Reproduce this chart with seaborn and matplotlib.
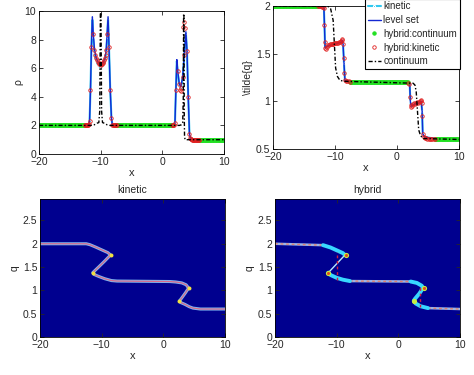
import numpy as np
import matplotlib
matplotlib.use("Agg")
import matplotlib.pyplot as plt
import seaborn as sns

sns.set_style("ticks")
plt.rcParams["font.family"] = ["Liberation Sans", "DejaVu Sans"]
plt.rcParams["font.size"] = 7.5

# ---------------- top left: density rho ----------------
level_x = [-20, -11.95, -11.8, -11.65, -11.5, -11.35, -11.2, -11.0, -10.7, -10.4, -10.0,
           -9.6, -9.3, -9.1, -8.95, -8.8, -8.65, -8.45, -8.25, -8.1, -7.9,
           1.9, 2.05, 2.2, 2.35, 2.5, 2.75, 3.0, 3.3, 3.55, 3.82, 4.0, 4.2, 4.4, 4.6, 6.0, 10]
level_rho = [2, 2, 2.3, 4.5, 7.5, 9.6, 8.4, 7.3, 6.7, 6.4, 6.25,
             6.4, 6.7, 7.3, 8.4, 9.6, 7.5, 4.5, 2.5, 2.05, 2.0,
             2.0, 2.2, 4.5, 6.6, 5.8, 4.9, 4.7, 5.4, 6.9, 8.55, 7.2, 4.0, 1.4, 1.05, 1.0, 1.0]
kin_rho = [2, 2, 2.3, 4.5, 7.5, 9.5, 8.2, 7.1, 6.5, 6.2, 6.05,
           6.2, 6.5, 7.1, 8.2, 9.5, 7.5, 4.5, 2.5, 2.05, 2.0,
           2.0, 2.2, 4.5, 6.5, 5.7, 4.8, 4.6, 5.3, 6.8, 8.45, 7.2, 4.0, 1.4, 1.05, 1.0, 1.0]

cont_x = [-20, -11.5, -11.0, -10.6, -10.3, -10.15, -10.05, -9.95, -9.85, -9.7, -9.4, -9.0, -8.5,
          2.8, 3.1, 3.3, 3.4, 3.45, 3.5, 3.55, 3.6, 3.7, 4.0, 10]
cont_rho = [2, 2, 2.05, 2.15, 2.2, 3.0, 10, 10, 3.0, 2.2, 2.15, 2.05, 2.0,
            2.0, 2.05, 2.2, 4.0, 9.8, 9.8, 3.0, 1.2, 1.0, 1.0, 1.0]

hc_rho_x1 = np.arange(-20, -12.6, 0.12)
hc_rho_x2 = np.arange(-7.4, 1.6, 0.12)
hc_rho_x3 = np.arange(6.0, 10.01, 0.12)
hc_rho_levels = [2.0, 2.0, 1.0]

hk_rho_x = [-12.6, -12.5, -12.4, -12.3, -12.2, -12.1, -12.0, -11.9, -11.8, -11.65, -11.5,
            -11.2, -11.0, -10.85, -10.7, -10.55, -10.4, -10.3, -10.2, -10.1, -10.0,
            -9.9, -9.8, -9.7, -9.6, -9.45, -9.3, -9.15, -9.1, -8.95, -8.65, -8.45,
            -8.25, -8.1, -8.0, -7.9, -7.8, -7.7, -7.6, -7.5, -7.4,
            1.6, 1.7, 1.8, 1.9, 2.05, 2.2, 2.5, 2.75, 2.9, 3.0, 3.1, 3.3, 3.4, 3.5,
            3.6, 3.55, 4.0, 4.2, 4.4, 4.5, 4.6, 4.7, 4.8, 4.9, 5.0, 5.1, 5.2, 5.3,
            5.4, 5.5, 5.6, 5.7, 5.8, 5.9, 6.0]
hk_rho = [2.0, 2.0, 2.0, 2.0, 2.0, 2.0, 2.0, 2.1, 2.3, 4.5, 7.5,
          8.4, 7.3, 6.9, 6.7, 6.55, 6.4, 6.35, 6.3, 6.28, 6.25,
          6.28, 6.3, 6.35, 6.4, 6.55, 6.7, 6.9, 7.3, 8.4, 7.5, 4.5,
          2.5, 2.05, 2.0, 2.0, 2.0, 2.0, 2.0, 2.0, 2.0,
          2.0, 2.0, 2.0, 2.0, 2.2, 4.5, 5.8, 4.9, 4.5, 4.6, 4.4, 5.4, 8.9, 9.2,
          8.8, 6.9, 7.2, 4.0, 1.4, 1.1, 1.05, 1.02, 1.0, 1.0, 1.0, 1.0, 1.0, 1.0,
          1.0, 1.0, 1.0, 1.0, 1.0, 1.0, 1.0]

# ---------------- top right: \tilde{q} ----------------
level_q_x = [-20, -11.8, -11.7, -11.6, -11.2, -10.5, -10.0, -9.5, -9.0, -8.85, -8.7, -8.55,
             -8.4, -7.6, 1.9, 2.05, 2.15, 2.3, 2.6, 3.0, 3.5, 3.9, 4.05, 4.15, 4.4, 5.0, 6.0, 10]
level_q = [2.0, 2.0, 1.8, 1.56, 1.58, 1.59, 1.6, 1.61, 1.62, 1.64, 1.6, 1.4,
           1.22, 1.21, 1.19, 1.18, 1.0, 0.95, 0.96, 0.98, 0.98, 1.0, 0.9, 0.66, 0.63, 0.62, 0.61, 0.6]

cont_q_x = [-20, -11.2, -10.7, -10.3, -10.1, -9.9, -9.6, -9.2, -8.5,
            2.6, 2.9, 3.1, 3.3, 3.5, 3.8, 4.2, 10]
cont_q = [2.0, 2.0, 1.97, 1.85, 1.6, 1.35, 1.26, 1.22, 1.21,
          1.19, 1.17, 1.1, 0.9, 0.7, 0.64, 0.61, 0.6]

hc_q_x1 = np.arange(-20, -12.7, 0.12)
hc_q_x2 = np.arange(-7.6, 1.85, 0.12)
hc_q_x3 = np.arange(6.1, 10.01, 0.12)
hc_q_levels = [2.0, 1.2, 0.6]

hk_q_x = [-12.7, -12.55, -12.4, -12.25, -12.1, -11.95, -11.8, -11.7, -11.65, -11.6,
          -11.45, -11.3, -11.15, -11.0, -10.85, -10.7, -10.55, -10.4, -10.25, -10.1,
          -9.95, -9.8, -9.65, -9.5, -9.35, -9.2, -9.05, -8.9, -8.8, -8.7, -8.6, -8.5,
          -8.4, -8.2, -8.0, -7.8, -7.6,
          1.85, 2.0, 2.1, 2.2, 2.3, 2.45, 2.6, 2.75, 2.9, 3.05, 3.2, 3.35, 3.5, 3.65,
          3.8, 3.9, 4.0, 4.1, 4.2, 4.35, 4.5, 4.7, 4.9, 5.1, 5.3, 5.5, 5.7, 5.9, 6.1]
hk_q = [2.0, 2.0, 2.0, 2.0, 1.99, 1.99, 1.98, 1.8, 1.62, 1.56,
        1.55, 1.57, 1.59, 1.59, 1.6, 1.6, 1.6, 1.6, 1.6, 1.61,
        1.61, 1.61, 1.61, 1.61, 1.62, 1.62, 1.63, 1.64, 1.65, 1.6, 1.45, 1.3,
        1.22, 1.21, 1.21, 1.21, 1.2,
        1.19, 1.18, 1.05, 0.96, 0.94, 0.95, 0.97, 0.98, 0.97, 0.98, 0.99, 0.98, 0.99, 1.0,
        1.0, 1.01, 0.98, 0.85, 0.66, 0.63, 0.62, 0.62, 0.61, 0.61, 0.61, 0.6, 0.6, 0.6, 0.6]

# ---------------- bottom: (x, q) phase space curves ----------------
kin_path_x = [-20, -12.5, -11.9, -11.0, -10.0, -9.0, -8.55, -9.5, -10.5, -11.45, -11.2, -10.5,
              -9.5, -8.4, -7.5, 1.0, 2.0, 3.0, 3.7, 4.1, 3.6, 3.0, 2.6, 2.8, 3.5, 4.2, 4.8, 6.0, 10]
kin_path_q = [2.0, 2.0, 1.98, 1.93, 1.87, 1.81, 1.76, 1.63, 1.50, 1.38, 1.34, 1.30,
              1.25, 1.21, 1.2, 1.19, 1.18, 1.16, 1.12, 1.05, 0.95, 0.84, 0.77, 0.74, 0.7, 0.65, 0.62, 0.6, 0.6]
cusp_x = [-8.55, -11.45, 4.1, 2.6]
cusp_q = [1.76, 1.38, 1.05, 0.77]

hyb_flat_x = [[-20, -12.2], [-7.85, 2.0], [4.8, 10]]
hyb_flat_q = [[2.0, 1.97], [1.2, 1.19], [0.62, 0.6]]
hyb_slope_x = [[-12.2, -11.0, -10.0, -9.0, -8.65],
               [-11.35, -11.0, -10.0, -9.0, -7.85],
               [2.0, 3.0, 3.8, 4.0, 3.4, 2.7, 2.5, 2.8, 3.6, 4.8]]
hyb_slope_q = [[1.97, 1.92, 1.86, 1.80, 1.76],
               [1.38, 1.33, 1.27, 1.23, 1.2],
               [1.19, 1.16, 1.1, 1.05, 0.93, 0.82, 0.78, 0.72, 0.66, 0.62]]
hyb_link_x = [-8.65, -11.35]
hyb_link_q = [1.76, 1.38]
hyb_shock_x = [[-9.95, -9.95], [3.45, 3.45]]
hyb_shock_q = [[1.23, 1.83], [0.65, 1.08]]

fig = plt.figure(figsize=(4.74, 3.75), dpi=100)
ax1 = fig.add_axes([39 / 474, 1 - 154 / 375, 185 / 474, 143 / 375])
ax2 = fig.add_axes([273 / 474, 1 - 149 / 375, 186 / 474, 143 / 375])
ax3 = fig.add_axes([40 / 474, 1 - 337 / 375, 185 / 474, 138 / 375])
ax4 = fig.add_axes([275 / 474, 1 - 337 / 375, 185 / 474, 138 / 375])

KIN = "#30c8f0"
LEV = "#1428d2"
GRN = "#22e022"
RED = "#e02020"
DASHDOT = (0, (3, 1.5, 1, 1.5))


def draw_top(ax, lx, ly, kx, ky, cx, cy, hcx, hcy, hkx, hky, labels):
    sns.lineplot(x=kx, y=ky, ax=ax, color=KIN, lw=1.5, marker=".", ms=3,
                 sort=False, estimator=None, label="kinetic" if labels else None)
    sns.lineplot(x=lx, y=ly, ax=ax, color=LEV, lw=1.0, sort=False, estimator=None,
                 label="level set" if labels else None)
    for i, (xs, lvl) in enumerate(zip(hcx, hcy)):
        sns.lineplot(x=xs, y=np.full(len(xs), lvl), ax=ax, color=GRN, ls="none",
                     marker="o", ms=2.4, mec=GRN, sort=False, estimator=None,
                     label="hybrid:continuum" if (labels and i == 0) else None)
    sns.lineplot(x=hkx, y=hky, ax=ax, ls="none", marker="o", ms=2.5, mfc="none",
                 mec=RED, mew=0.6, color=RED, sort=False, estimator=None,
                 label="hybrid:kinetic" if labels else None)
    sns.lineplot(x=cx, y=cy, ax=ax, color="black", lw=1.0, sort=False, estimator=None,
                 label="continuum" if labels else None)
    ax.lines[-1].set_linestyle(DASHDOT)


draw_top(ax1, level_x, level_rho, level_x, kin_rho, cont_x, cont_rho,
         [hc_rho_x1, hc_rho_x2, hc_rho_x3], hc_rho_levels, hk_rho_x, hk_rho, False)
ax1.set_xlim(-20, 10)
ax1.set_ylim(0, 10)
ax1.set_yticks([0, 2, 4, 6, 8, 10])
ax1.set_ylabel("ρ", labelpad=1)

draw_top(ax2, level_q_x, level_q, level_q_x, level_q, cont_q_x, cont_q,
         [hc_q_x1, hc_q_x2, hc_q_x3], hc_q_levels, hk_q_x, hk_q, True)
ax2.set_xlim(-20, 10)
ax2.set_ylim(0.5, 2)
ax2.set_yticks([0.5, 1, 1.5, 2])
ax2.set_yticklabels(["0.5", "1", "1.5", "2"])
ax2.set_ylabel("\\tilde{q}", labelpad=2)
leg = ax2.legend(loc="lower right", bbox_to_anchor=(465 / 474, 1 - 74 / 375),
                 bbox_transform=fig.transFigure, fontsize=7, labelspacing=0.38,
                 borderpad=0.3, handlelength=1.3, handletextpad=0.3,
                 fancybox=False, framealpha=1, edgecolor="black")
leg.get_frame().set_linewidth(0.8)

BG = "#00008f"
# kinetic phase plot
sns.lineplot(x=kin_path_x, y=kin_path_q, ax=ax3, color="#80b8f0", lw=2.2,
             sort=False, estimator=None)
sns.lineplot(x=kin_path_x, y=kin_path_q, ax=ax3, color="#d86a8a", lw=0.9,
             sort=False, estimator=None)
sns.scatterplot(x=cusp_x, y=cusp_q, ax=ax3, color="#f0e040", s=8, linewidth=0, zorder=3)

# hybrid phase plot
for xs, qs in zip(hyb_flat_x, hyb_flat_q):
    sns.lineplot(x=xs, y=qs, ax=ax4, color="#9ab4e8", lw=1.8, sort=False, estimator=None)
    sns.lineplot(x=xs, y=qs, ax=ax4, color="#e08070", lw=1.0, sort=False, estimator=None)
    ax4.lines[-1].set_linestyle((0, (2, 2)))
sns.lineplot(x=hyb_link_x, y=hyb_link_q, ax=ax4, color="#b8e8ff", lw=1.0,
             sort=False, estimator=None)
for xs, qs in zip(hyb_slope_x, hyb_slope_q):
    sns.lineplot(x=xs, y=qs, ax=ax4, color="#38d8ff", lw=2.8, sort=False, estimator=None)
sns.scatterplot(x=cusp_x, y=cusp_q, ax=ax4, color="#c8f040", s=14, linewidth=0, zorder=3)
sns.scatterplot(x=cusp_x[:3], y=cusp_q[:3], ax=ax4, color="#e05020", s=5, linewidth=0, zorder=4)
for xs, qs in zip(hyb_shock_x, hyb_shock_q):
    sns.lineplot(x=xs, y=qs, ax=ax4, color="#d02040", lw=1.0, sort=False, estimator=None)
    ax4.lines[-1].set_linestyle((0, (2, 2)))

for ax, title in [(ax3, "kinetic"), (ax4, "hybrid")]:
    ax.set_facecolor(BG)
    ax.set_xlim(-20, 10)
    ax.set_ylim(0, 2.96)
    ax.set_yticks([0, 0.5, 1, 1.5, 2, 2.5])
    ax.set_yticklabels(["0", "0.5", "1", "1.5", "2", "2.5"])
    ax.set_ylabel("q", labelpad=2)
    ax.set_title(title, fontsize=7.5, pad=4)

for ax in [ax1, ax2, ax3, ax4]:
    ax.set_xticks([-20, -10, 0, 10])
    ax.set_xlabel("x", labelpad=1, fontsize=8)
    ax.tick_params(direction="in", length=3, width=0.6, top=True, right=True,
                   labelsize=7.5, pad=2)
    for s in ax.spines.values():
        s.set_visible(True)
        s.set_linewidth(0.6)
        s.set_color("black")

fig.savefig("out.png", dpi=100)
